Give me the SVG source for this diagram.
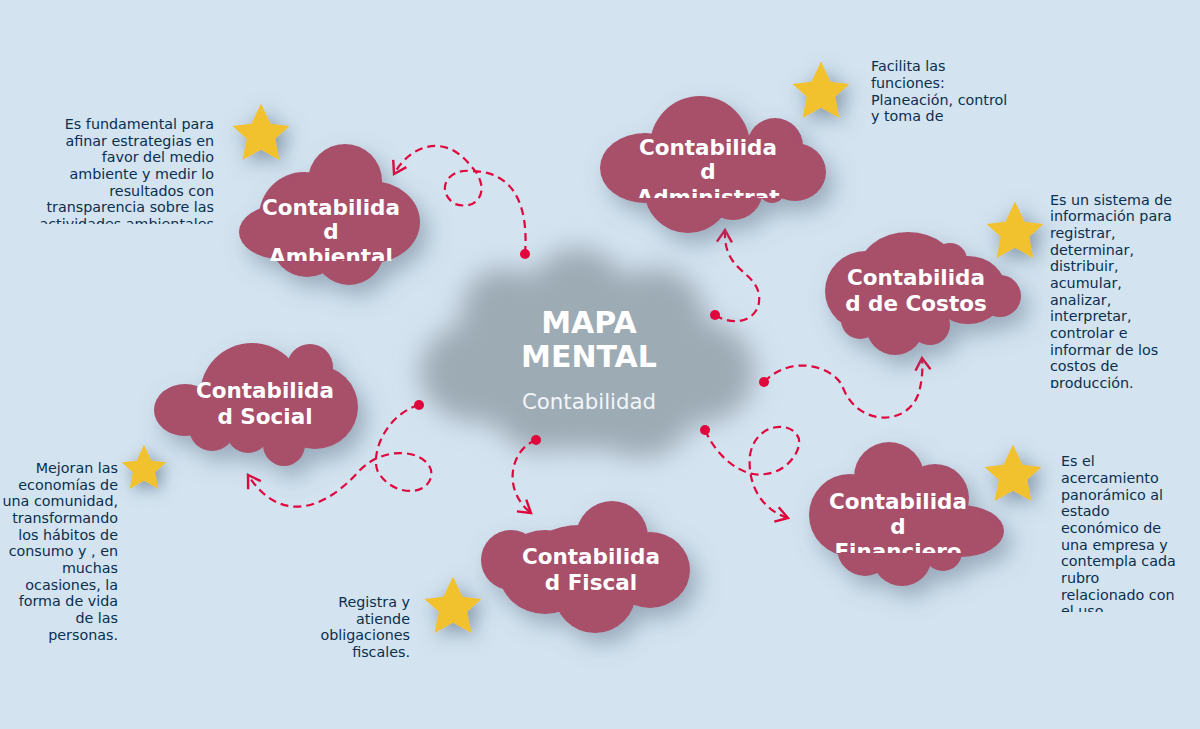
<svg xmlns="http://www.w3.org/2000/svg" width="1200" height="729" viewBox="0 0 1200 729">
<style>
text{font-family:"DejaVu Sans",sans-serif}
.b{font-size:14.3px;fill:#0a2f4f}
.r{text-anchor:end}
.t{font-size:21.5px;font-weight:700;fill:#fff;text-anchor:middle}
.c{fill:#a84f6b;filter:url(#sh)}
.s{fill:#f1c12e;filter:url(#sh2)}
.l{fill:none;stroke:#e0063c;stroke-width:2.2;stroke-dasharray:8 5;marker-end:url(#a)}
.d{fill:#e0063c}
</style>
<defs>
<filter id="sh" x="-30%" y="-30%" width="170%" height="170%"><feDropShadow dx="8" dy="11" stdDeviation="11" flood-color="#5f7488" flood-opacity=".5"/></filter>
<filter id="sh2" x="-60%" y="-60%" width="240%" height="240%"><feDropShadow dx="7" dy="8" stdDeviation="14" flood-color="#5f7488" flood-opacity=".7"/></filter>
<filter id="bl" x="-20%" y="-20%" width="140%" height="140%"><feGaussianBlur stdDeviation="13"/></filter>
<marker id="a" viewBox="0 0 18 18" refX="15" refY="9" markerWidth="18" markerHeight="18" markerUnits="userSpaceOnUse" orient="auto"><path d="M3,1.5 L15,9 L3,16.500" fill="none" stroke="#e0063c" stroke-width="2.400" stroke-dasharray="none"/></marker>
<path id="st" d="M0,-42 L14,-12 L42,-9 L21,10 L27,41 L0,26 L-27,41 L-21,10 L-42,-9 L-14,-12Z"/>
<clipPath id="c1"><rect x="0" y="110" width="300" height="114"/></clipPath>
<clipPath id="c2"><rect x="200" y="190" width="260" height="71"/></clipPath>
<clipPath id="c3"><rect x="600" y="130" width="220" height="68"/></clipPath>
<clipPath id="c4"><rect x="780" y="480" width="240" height="73"/></clipPath>
<clipPath id="c5"><rect x="1040" y="190" width="160" height="198"/></clipPath>
<clipPath id="c6"><rect x="1050" y="450" width="150" height="162"/></clipPath>
</defs>
<rect width="1200" height="729" fill="#d3e3f0"/>
<g id="central">
<g fill="#9dabb5" filter="url(#bl)"><ellipse cx="585" cy="360" rx="135" ry="90"/><circle cx="578" cy="298" r="50"/><circle cx="505" cy="312" r="44"/><circle cx="655" cy="318" r="50"/><ellipse cx="478" cy="372" rx="58" ry="50"/><ellipse cx="695" cy="372" rx="60" ry="52"/><circle cx="540" cy="408" r="44"/><circle cx="640" cy="402" r="56"/></g>
<text x="589" y="333" font-size="30" font-weight="700" fill="#fff" text-anchor="middle">MAPA</text>
<text x="589" y="367" font-size="30" font-weight="700" fill="#fff" text-anchor="middle">MENTAL</text>
<text x="589" y="409" font-size="21.3" fill="#f2f6f9" text-anchor="middle">Contabilidad</text>
</g>
<g id="connectors">
<path class="l" d="M525,254C528,215 520,172 472,171C445,168 436,192 455,204C480,212 492,187 470,165C445,133 410,145 394,174"/>
<path class="l" d="M715,315C735,328 762,320 759,295C755,270 723,272 725,230"/>
<path class="l" d="M764,382C790,355 830,365 842,385C855,425 905,428 918,395C922,383 923,370 922,358"/>
<path class="l" d="M705,430C718,460 745,478 765,474C790,472 805,445 797,435C787,420 755,425 750,455C747,485 762,510 788,518"/>
<path class="l" d="M536,440C510,450 502,490 531,513"/>
<path class="l" d="M419,405C385,415 370,455 378,472C395,500 435,495 431,470C425,450 385,445 360,470C325,510 280,525 248,475"/>
<circle class="d" cx="525" cy="254" r="5"/><circle class="d" cx="715" cy="315" r="5"/><circle class="d" cx="764" cy="382" r="5"/><circle class="d" cx="705" cy="430" r="5"/><circle class="d" cx="536" cy="440" r="5"/><circle class="d" cx="419" cy="405" r="5"/>
</g>
<g id="ambiental">
<g class="c"><circle cx="345" cy="181" r="37"/><circle cx="304" cy="217" r="45"/><ellipse cx="371" cy="222" rx="49" ry="41"/><ellipse cx="280" cy="232" rx="41" ry="27"/><circle cx="307" cy="241" r="36"/><circle cx="349" cy="250" r="35"/></g>
<g clip-path="url(#c2)"><text class="t" x="331" y="215">Contabilida</text><text class="t" x="331" y="239">d</text><text class="t" x="331" y="264">Ambiental</text></g>
</g>
<g id="admin">
<g class="c"><circle cx="700" cy="146" r="50"/><ellipse cx="645" cy="168" rx="45" ry="35"/><circle cx="775" cy="146" r="28"/><ellipse cx="795" cy="172" rx="31" ry="29"/><circle cx="688" cy="189" r="44"/><circle cx="733" cy="190" r="30"/><circle cx="772" cy="190" r="13"/><ellipse cx="740" cy="170" rx="50" ry="28"/></g>
<g clip-path="url(#c3)"><text class="t" x="708" y="155">Contabilida</text><text class="t" x="708" y="179">d</text><text class="t" x="708" y="205">Administrat</text></g>
</g>
<g id="costos">
<g class="c"><ellipse cx="908" cy="272" rx="50" ry="40"/><ellipse cx="866" cy="291" rx="41" ry="40"/><circle cx="950" cy="260" r="17"/><ellipse cx="968" cy="290" rx="38" ry="34"/><circle cx="1000" cy="296" r="21"/><circle cx="895" cy="326" r="29"/><circle cx="860" cy="320" r="19"/><circle cx="930" cy="325" r="20"/></g>
<text class="t" x="916" y="285">Contabilida</text><text class="t" x="916" y="311">d de Costos</text>
</g>
<g id="financiero">
<g class="c"><circle cx="889" cy="477" r="35"/><circle cx="850" cy="515" r="41"/><circle cx="935" cy="498" r="34"/><ellipse cx="960" cy="531" rx="44" ry="26"/><circle cx="865" cy="548" r="28"/><circle cx="902" cy="556" r="30"/><circle cx="943" cy="552" r="19"/><ellipse cx="900" cy="525" rx="50" ry="30"/></g>
<g clip-path="url(#c4)"><text class="t" x="898" y="509">Contabilida</text><text class="t" x="898" y="534">d</text><text class="t" x="898" y="559">Financiero</text></g>
</g>
<g id="fiscal">
<g class="c"><circle cx="612" cy="537" r="36"/><circle cx="511" cy="560" r="30"/><ellipse cx="650" cy="570" rx="40" ry="38"/><ellipse cx="545" cy="572" rx="46" ry="42"/><circle cx="595" cy="592" r="41"/><ellipse cx="580" cy="555" rx="50" ry="30"/></g>
<text class="t" x="591" y="564">Contabilida</text><text class="t" x="591" y="590">d Fiscal</text>
</g>
<g id="social">
<g class="c"><circle cx="252" cy="395" r="52"/><circle cx="310" cy="367" r="23"/><ellipse cx="185" cy="410" rx="31" ry="26"/><ellipse cx="315" cy="407" rx="43" ry="42"/><circle cx="212" cy="428" r="23"/><circle cx="248" cy="431" r="22"/><circle cx="284" cy="445" r="21"/></g>
<text class="t" x="265" y="398">Contabilida</text><text class="t" x="265" y="424">d Social</text>
</g>
<g id="nota-ambiental">
<use href="#st" class="s" transform="translate(261 132) scale(.68)"/>
<g clip-path="url(#c1)"><text class="b r" x="214" y="129">Es fundamental para</text><text class="b r" x="214" y="146">afinar estrategias en</text><text class="b r" x="214" y="162">favor del medio</text><text class="b r" x="214" y="179">ambiente y medir lo</text><text class="b r" x="214" y="196">resultados con</text><text class="b r" x="214" y="212">transparencia sobre las</text><text class="b r" x="214" y="229">actividades ambientales</text></g>
</g>
<g id="nota-admin">
<use href="#st" class="s" transform="translate(821 90) scale(.68)"/>
<text class="b" x="871" y="71">Facilita las</text><text class="b" x="871" y="88">funciones:</text><text class="b" x="871" y="105">Planeación, control</text><text class="b" x="871" y="121">y toma de</text>
</g>
<g id="nota-costos">
<use href="#st" class="s" transform="translate(1015 230) scale(.68)"/>
<g clip-path="url(#c5)"><text class="b" x="1050" y="205">Es un sistema de</text><text class="b" x="1050" y="221">información para</text><text class="b" x="1050" y="238">registrar,</text><text class="b" x="1050" y="255">determinar,</text><text class="b" x="1050" y="271">distribuir,</text><text class="b" x="1050" y="288">acumular,</text><text class="b" x="1050" y="305">analizar,</text><text class="b" x="1050" y="321">interpretar,</text><text class="b" x="1050" y="338">controlar e</text><text class="b" x="1050" y="355">informar de los</text><text class="b" x="1050" y="371">costos de</text><text class="b" x="1050" y="388">producción.</text></g>
</g>
<g id="nota-financiero">
<use href="#st" class="s" transform="translate(1013 473) scale(.68)"/>
<g clip-path="url(#c6)"><text class="b" x="1061" y="466">Es el</text><text class="b" x="1061" y="483">acercamiento</text><text class="b" x="1061" y="500">panorámico al</text><text class="b" x="1061" y="516">estado</text><text class="b" x="1061" y="533">económico de</text><text class="b" x="1061" y="550">una empresa y</text><text class="b" x="1061" y="566">contempla cada</text><text class="b" x="1061" y="583">rubro</text><text class="b" x="1061" y="600">relacionado con</text><text class="b" x="1061" y="616">el uso</text></g>
</g>
<g id="nota-fiscal">
<use href="#st" class="s" transform="translate(453 605) scale(.68)"/>
<text class="b r" x="410" y="607">Registra y</text><text class="b r" x="410" y="624">atiende</text><text class="b r" x="410" y="640">obligaciones</text><text class="b r" x="410" y="657">fiscales.</text>
</g>
<g id="nota-social">
<use href="#st" class="s" transform="translate(144 467) scale(.53)"/>
<text class="b r" x="118" y="473">Mejoran las</text><text class="b r" x="118" y="490">economías de</text><text class="b r" x="118" y="506">una comunidad,</text><text class="b r" x="118" y="523">transformando</text><text class="b r" x="118" y="540">los hábitos de</text><text class="b r" x="118" y="556">consumo y , en</text><text class="b r" x="118" y="573">muchas</text><text class="b r" x="118" y="590">ocasiones, la</text><text class="b r" x="118" y="606">forma de vida</text><text class="b r" x="118" y="623">de las</text><text class="b r" x="118" y="640">personas.</text>
</g>
</svg>
